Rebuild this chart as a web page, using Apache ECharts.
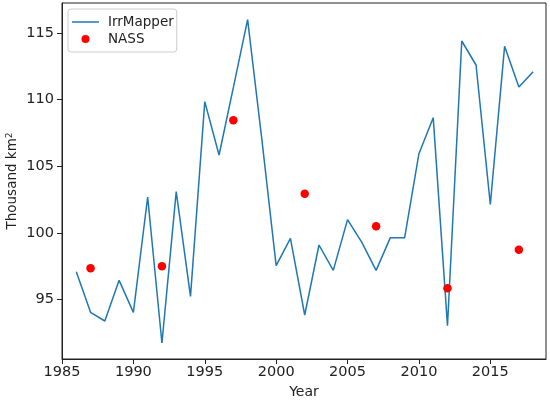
<!DOCTYPE html>
<html><head><meta charset="utf-8">
<script src="https://cdn.jsdelivr.net/npm/echarts@6/dist/echarts.min.js"></script>
<style>html,body{margin:0;padding:0;background:#fff}#c{width:550px;height:403px}</style>
</head><body><div id="c"></div>
<script>
const years = [1986,1987,1988,1989,1990,1991,1992,1993,1994,1995,1996,1997,1998,1999,2000,2001,2002,2003,2004,2005,2006,2007,2008,2009,2010,2011,2012,2013,2014,2015,2016,2017,2018];
const irrMapper = [97.1,94.05,93.4,96.45,94.05,102.7,91.75,103.1,95.25,109.85,105.85,110.9,116.0,107.0,97.55,99.6,93.85,99.1,97.2,101.0,99.3,97.2,99.65,99.65,105.95,108.65,93.05,114.4,112.6,102.15,114.0,110.95,112.1];
const nassYears = [1987,1992,1997,2002,2007,2012,2017];
const nass = [97.35,97.5,108.45,102.95,100.5,95.85,98.75];
const xTicks = [1985,1990,1995,2000,2005,2010,2015];
const yTicks = [95,100,105,110,115];

const font = 'DejaVu Sans';
const chart = echarts.init(document.getElementById('c'));
chart.setOption({
  animation: false,
  grid: {left: 62, right: 4, top: 3, bottom: 44, outerBoundsMode: 'none', containLabel: false,
         show: true, borderColor: '#222', borderWidth: 1},
  legend: {
    orient: 'vertical', left: 68, top: 9,
    padding: [6, 3, 6, 4], itemGap: 3, itemWidth: 27, itemHeight: 8,
    backgroundColor: 'rgba(255,255,255,0.8)', borderColor: '#ccc', borderWidth: 1, borderRadius: 3,
    textStyle: {fontFamily: font, fontSize: 13.5, color: '#222', padding: [0,0,0,4]},
    data: [{name: 'IrrMapper', icon: 'path://M0,0L18,0L18,1L0,1Z'}, {name: 'NASS', icon: 'circle'}]
  },
  xAxis: {
    type: 'value', min: 1985, max: 2018.9,
    name: 'Year', nameLocation: 'middle', nameGap: 26, nameMoveOverlap: false,
    nameTextStyle: {fontFamily: font, fontSize: 14, color: '#222'},
    splitLine: {show: false},
    axisLine: {show: true, lineStyle: {color: '#222'}},
    axisTick: {show: true, inside: false, length: 5, customValues: xTicks, lineStyle: {color: '#222'}},
    axisLabel: {customValues: xTicks, margin: 6, fontFamily: font, fontSize: 14.5, color: '#222',
                formatter: v => String(v)}
  },
  yAxis: {
    type: 'value', min: 90.55, max: 117.25,
    name: 'Thousand km{sup|2}', nameLocation: 'middle', nameGap: 42, nameRotate: 90, nameMoveOverlap: false,
    nameTextStyle: {fontFamily: font, fontSize: 13.5, color: '#222',
      rich: {sup: {fontFamily: font, fontSize: 9, color: '#222', verticalAlign: 'top', padding: [0,0,6,0]}}},
    splitLine: {show: false},
    axisLine: {show: true, lineStyle: {color: '#222'}},
    axisTick: {show: true, inside: false, length: 5, customValues: yTicks, lineStyle: {color: '#222'}},
    axisLabel: {customValues: yTicks, margin: 8, fontFamily: font, fontSize: 14.5, color: '#222',
                formatter: v => String(v)}
  },
  series: [
    {name: 'IrrMapper', type: 'line', data: years.map((y, i) => [y, irrMapper[i]]),
     symbol: 'none', lineStyle: {color: '#1f77b4', width: 1.5}, itemStyle: {color: '#1f77b4'}, z: 2},
    {name: 'NASS', type: 'scatter', data: nassYears.map((y, i) => [y, nass[i]]),
     symbolSize: 8.5, itemStyle: {color: '#ff0000', opacity: 1}, z: 3}
  ]
});
</script></body></html>
